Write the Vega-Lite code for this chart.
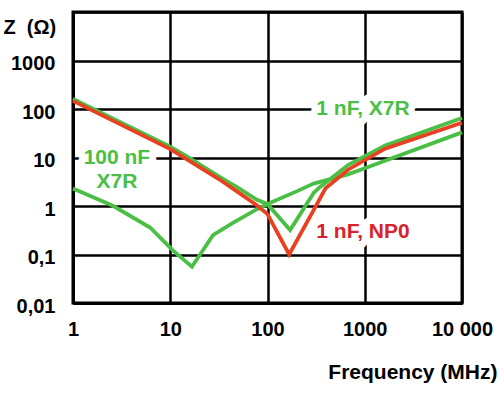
{
  "$schema": "https://vega.github.io/schema/vega-lite/v6.json",
  "width": 389,
  "height": 291,
  "autosize": {"type": "none"},
  "padding": {"left": 73, "top": 12, "right": 38, "bottom": 92},
  "background": "white",
  "config": {
    "font": "Liberation Sans",
    "view": {"stroke": "black", "strokeWidth": 3},
    "axis": {
      "gridColor": "black", "gridWidth": 2.5, "gridOpacity": 1,
      "domainColor": "black", "domainWidth": 3,
      "ticks": false, "tickSize": 0,
      "labelFont": "Liberation Sans", "labelFontSize": 20, "labelFontWeight": "bold", "labelColor": "black",
      "labelFlush": false, "labelOverlap": false,
      "titleFont": "Liberation Sans", "titleFontSize": 20, "titleFontWeight": "bold", "titleColor": "black"
    }
  },
  "resolve": {"scale": {"color": "independent"}},
  "datasets": {
    "curves": [
      {"series": "100 nF X7R", "f": 1, "z": 2.3},
      {"series": "100 nF X7R", "f": 2.6, "z": 1.0},
      {"series": "100 nF X7R", "f": 6.2, "z": 0.36},
      {"series": "100 nF X7R", "f": 10.7, "z": 0.12},
      {"series": "100 nF X7R", "f": 16.7, "z": 0.056},
      {"series": "100 nF X7R", "f": 27.5, "z": 0.25},
      {"series": "100 nF X7R", "f": 45, "z": 0.46},
      {"series": "100 nF X7R", "f": 78, "z": 0.86},
      {"series": "100 nF X7R", "f": 100, "z": 1.1},
      {"series": "100 nF X7R", "f": 210, "z": 2.1},
      {"series": "100 nF X7R", "f": 298, "z": 2.9},
      {"series": "100 nF X7R", "f": 673, "z": 4.5},
      {"series": "100 nF X7R", "f": 1000, "z": 6.0},
      {"series": "100 nF X7R", "f": 10000, "z": 33},
      {"series": "1 nF, X7R", "f": 1, "z": 162},
      {"series": "1 nF, X7R", "f": 10, "z": 16.8},
      {"series": "1 nF, X7R", "f": 15.4, "z": 10},
      {"series": "1 nF, X7R", "f": 31.6, "z": 4.1},
      {"series": "1 nF, X7R", "f": 51, "z": 2.3},
      {"series": "1 nF, X7R", "f": 77, "z": 1.36},
      {"series": "1 nF, X7R", "f": 100, "z": 1.09},
      {"series": "1 nF, X7R", "f": 171, "z": 0.32},
      {"series": "1 nF, X7R", "f": 298, "z": 1.86},
      {"series": "1 nF, X7R", "f": 335, "z": 2.32},
      {"series": "1 nF, X7R", "f": 673, "z": 7.0},
      {"series": "1 nF, X7R", "f": 1620, "z": 17.6},
      {"series": "1 nF, X7R", "f": 10000, "z": 65},
      {"series": "1 nF, NP0", "f": 1, "z": 147},
      {"series": "1 nF, NP0", "f": 10, "z": 14.9},
      {"series": "1 nF, NP0", "f": 15.4, "z": 8.75},
      {"series": "1 nF, NP0", "f": 31.6, "z": 3.6},
      {"series": "1 nF, NP0", "f": 51, "z": 1.86},
      {"series": "1 nF, NP0", "f": 77, "z": 1.05},
      {"series": "1 nF, NP0", "f": 100, "z": 0.68},
      {"series": "1 nF, NP0", "f": 167, "z": 0.1},
      {"series": "1 nF, NP0", "f": 298, "z": 0.82},
      {"series": "1 nF, NP0", "f": 395, "z": 2.32},
      {"series": "1 nF, NP0", "f": 673, "z": 5.6},
      {"series": "1 nF, NP0", "f": 1620, "z": 15.2},
      {"series": "1 nF, NP0", "f": 10000, "z": 52}
    ],
    "labels": [
      {"series": "100 nF X7R", "text": "100 nF", "f": 2.83, "z": 10},
      {"series": "100 nF X7R", "text": "X7R", "f": 2.83, "z": 3.13},
      {"series": "1 nF, X7R", "text": "1 nF, X7R", "f": 960, "z": 100},
      {"series": "1 nF, NP0", "text": "1 nF, NP0", "f": 960, "z": 0.29}
    ]
  },
  "encoding": {
    "x": {
      "field": "f", "type": "quantitative",
      "scale": {"type": "log", "domain": [1, 10000], "nice": false},
      "axis": {
        "values": [1, 10, 100, 1000, 10000],
        "labelExpr": "datum.value >= 10000 ? '10 000' : format(datum.value, 'd')",
        "labelPadding": 16,
        "title": "Frequency (MHz)",
        "titleFontSize": 21,
        "titleX": 424, "titleY": 75, "titleAlign": "right", "titleBaseline": "alphabetic"
      }
    },
    "y": {
      "field": "z", "type": "quantitative",
      "scale": {"type": "log", "domain": [0.01, 10000], "nice": false},
      "axis": {
        "values": [0.01, 0.1, 1, 10, 100, 1000, 10000],
        "labelExpr": "datum.value >= 10000 ? '' : datum.value < 0.05 ? '0,01' : datum.value < 0.5 ? '0,1' : format(datum.value, 'd')",
        "labelPadding": 18, "labelOffset": 3,
        "title": "Z\u00a0\u00a0(Ω)",
        "titleAngle": 0, "titleX": -70, "titleY": 21, "titleAlign": "left", "titleBaseline": "alphabetic"
      }
    }
  },
  "layer": [
    {
      "data": {"name": "labels"},
      "mark": {"type": "text", "fontSize": 21, "fontWeight": "bold", "fill": "white", "stroke": "white", "strokeWidth": 14, "strokeJoin": "round", "align": "center", "baseline": "middle"},
      "encoding": {"text": {"field": "text"}}
    },
    {
      "data": {"name": "curves"},
      "mark": {"type": "line", "strokeWidth": 3.8},
      "encoding": {
        "color": {
          "field": "series", "type": "nominal", "legend": null,
          "scale": {"domain": ["100 nF X7R", "1 nF, X7R", "1 nF, NP0"], "range": ["#4BBF45", "#4BBF45", "#E84020"]}
        }
      }
    },
    {
      "data": {"name": "labels"},
      "mark": {"type": "text", "fontSize": 21, "fontWeight": "bold", "align": "center", "baseline": "middle"},
      "encoding": {
        "text": {"field": "text"},
        "color": {
          "field": "series", "type": "nominal", "legend": null,
          "scale": {"domain": ["100 nF X7R", "1 nF, X7R", "1 nF, NP0"], "range": ["#4BBF45", "#4BBF45", "#D9222B"]}
        }
      }
    }
  ]
}
